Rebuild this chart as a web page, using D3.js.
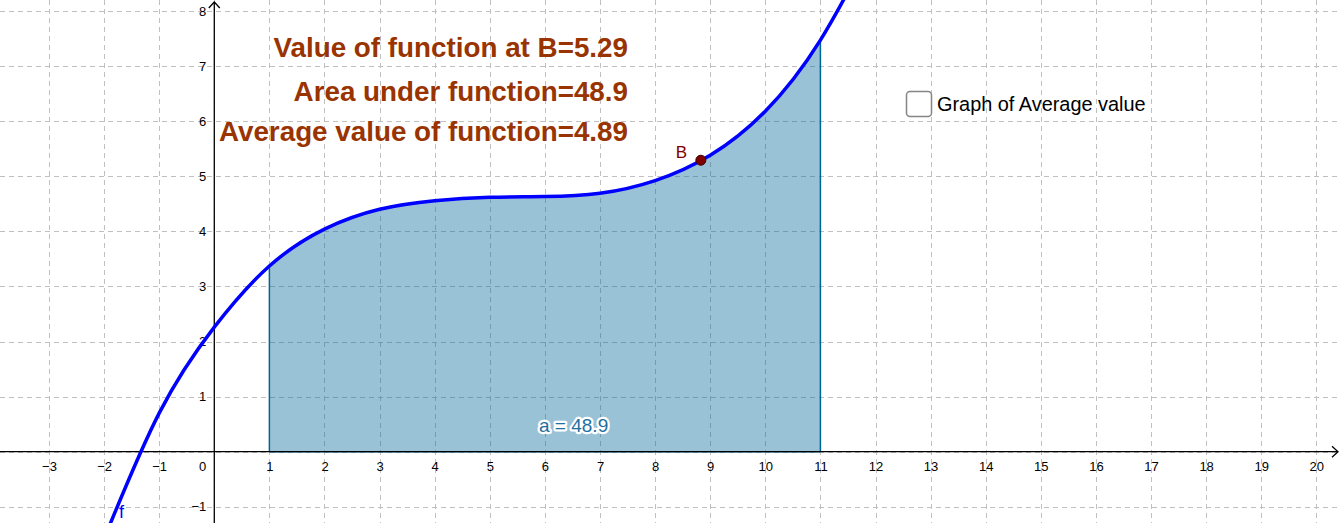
<!DOCTYPE html>
<html>
<head>
<meta charset="utf-8">
<script src="https://cdn.jsdelivr.net/npm/d3@7"></script>
<style>
  html, body { margin: 0; padding: 0; background: #fff; }
  svg { display: block; }
  text { font-family: "Liberation Sans", Arial, sans-serif; }
</style>
</head>
<body>
<svg id="chart" width="1341" height="523"></svg>
<script>
// ---- data ----
const curveX = [-2, -1, 0, 1, 2, 3, 4, 5, 6, 7, 8, 9, 10, 11, 12];
const curveY = [-1.58, 0.70, 2.26, 3.37, 4.04, 4.40, 4.556, 4.617, 4.63, 4.69, 4.92, 5.38, 6.18, 7.47, 9.30];
const areaFrom = 1, areaTo = 11;
const pointB = { x: 8.83, y: 5.29, name: "B" };
const xTicks = [-3, -2, -1, 1, 2, 3, 4, 5, 6, 7, 8, 9, 10, 11, 12, 13, 14, 15, 16, 17, 18, 19, 20];
const yTicks = [-1, 1, 2, 3, 4, 5, 6, 7, 8];
const gridX = d3.range(-3, 21);
const gridY = d3.range(-1, 9);
const infoLines = ["Value of function at B=5.29", "Area under function=48.9", "Average value of function=4.89"];
const areaLabel = "a = 48.9";
const curveName = "f";
const checkboxLabel = "Graph of Average value";

// ---- setup ----
const W = 1341, H = 523;
const svg = d3.select("#chart");
const x = d3.scaleLinear().domain([-3.889, 20.448]).range([0, W]);
const y = d3.scaleLinear().domain([8.198, -1.294]).range([0, H]);
const pts = curveX.map((v, i) => [v, curveY[i]]);

// grid
const grid = svg.append("g").attr("stroke", "#c0c0c0").attr("stroke-width", 1).attr("stroke-dasharray", "5,4");
grid.selectAll("line.gx").data(gridX).join("line").attr("class", "gx")
  .attr("x1", d => Math.round(x(d)) + 0.5).attr("x2", d => Math.round(x(d)) + 0.5)
  .attr("y1", 0).attr("y2", H);
grid.selectAll("line.gy").data(gridY).join("line").attr("class", "gy")
  .attr("y1", d => Math.round(y(d)) + 0.5).attr("y2", d => Math.round(y(d)) + 0.5)
  .attr("x1", 0).attr("x2", W);

// area under curve (clipped to [areaFrom, areaTo])
svg.append("clipPath").attr("id", "clipA").append("rect")
  .attr("x", x(areaFrom)).attr("width", x(areaTo) - x(areaFrom))
  .attr("y", 0).attr("height", H);
const areaGen = d3.area().x(d => x(d[0])).y0(y(0)).y1(d => y(d[1])).curve(d3.curveNatural);
svg.append("path").datum(pts).attr("d", areaGen)
  .attr("clip-path", "url(#clipA)")
  .attr("fill", "#006699").attr("fill-opacity", 0.4).attr("stroke", "none");
// area borders
const areaBorder = svg.append("g").attr("stroke", "#006699").attr("stroke-width", 1.5).attr("fill", "none");
const valAt = (xv) => curveY[curveX.indexOf(xv)];
areaBorder.append("line").attr("x1", x(areaFrom)).attr("x2", x(areaFrom)).attr("y1", y(0)).attr("y2", y(valAt(areaFrom)));
areaBorder.append("line").attr("x1", x(areaTo)).attr("x2", x(areaTo)).attr("y1", y(0)).attr("y2", y(valAt(areaTo)));
areaBorder.append("line").attr("x1", x(areaFrom)).attr("x2", x(areaTo)).attr("y1", y(0)).attr("y2", y(0));

// axes lines
const ax = svg.append("g").attr("stroke", "#000").attr("stroke-width", 1.3).attr("fill", "none");
const X0 = x(0), Y0 = y(0);
ax.append("line").attr("x1", 0).attr("x2", W - 3).attr("y1", Y0).attr("y2", Y0);
ax.append("line").attr("x1", X0).attr("x2", X0).attr("y1", 2).attr("y2", H);
ax.append("path").attr("d", `M${W - 9},${Y0 - 5.5}L${W - 3},${Y0}L${W - 9},${Y0 + 5.5}`);
ax.append("path").attr("d", `M${X0 - 5.5},${8}L${X0},${2}L${X0 + 5.5},${8}`);

// tick labels via d3 axes
const xAxis = d3.axisBottom(x).tickValues(xTicks).tickSize(0).tickPadding(10);
const gx = svg.append("g").attr("transform", `translate(0,${Y0})`).call(xAxis);
const yAxis = d3.axisLeft(y).tickValues(yTicks).tickSize(0).tickPadding(8);
const gy = svg.append("g").attr("transform", `translate(${X0},0)`).call(yAxis);
[gx, gy].forEach(g => {
  g.attr("font-size", null).attr("font-family", null);
  g.select(".domain").remove();
  g.selectAll("text").style("font-size", "13px").style("fill", "#000");
});
svg.append("text").attr("x", X0 - 8).attr("y", Y0 + 19).attr("text-anchor", "end")
  .style("font-size", "13px").attr("fill", "#000").text("0");

// curve
const lineGen = d3.line().x(d => x(d[0])).y(d => y(d[1])).curve(d3.curveNatural);
svg.append("path").datum(pts).attr("d", lineGen)
  .attr("fill", "none").attr("stroke", "#0000ff").attr("stroke-width", 3.5)
  .attr("stroke-linejoin", "round");
svg.append("text").attr("x", 119).attr("y", 518).style("font-size", "18px").attr("fill", "#0000ff").text(curveName);

// point B
svg.append("circle").attr("cx", x(pointB.x)).attr("cy", y(pointB.y)).attr("r", 5)
  .attr("fill", "#800000").attr("stroke", "#3a0000").attr("stroke-width", 1);
svg.append("text").attr("x", x(pointB.x) - 25).attr("y", y(pointB.y) - 2)
  .style("font-size", "17px").attr("fill", "#800000").text(pointB.name);

// area label with halo
const al = svg.append("g");
[["none", "#fff", 4.5], ["#1f6f9f", "none", 0]].forEach(([fill, stroke, sw]) => {
  al.append("text").attr("x", 539).attr("y", 432)
    .style("font-size", "19px").attr("fill", fill).attr("stroke", stroke).attr("stroke-width", sw)
    .attr("stroke-linejoin", "round").text(areaLabel);
});

// info text
const baselines = [57, 101, 141];
svg.selectAll("text.info").data(infoLines).join("text").attr("class", "info")
  .attr("x", 628).attr("y", (d, i) => baselines[i]).attr("text-anchor", "end")
  .style("font-size", "27.8px").attr("font-weight", "bold").attr("fill", "#993300").text(d => d);

// checkbox
svg.append("rect").attr("x", 906.5).attr("y", 91.5).attr("width", 25).attr("height", 25).attr("rx", 3.5)
  .attr("fill", "#fff").attr("stroke", "#858585").attr("stroke-width", 1.5);
svg.append("text").attr("x", 937).attr("y", 110.5).style("font-size", "19.9px").attr("fill", "#000").text(checkboxLabel);
</script>
</body>
</html>
